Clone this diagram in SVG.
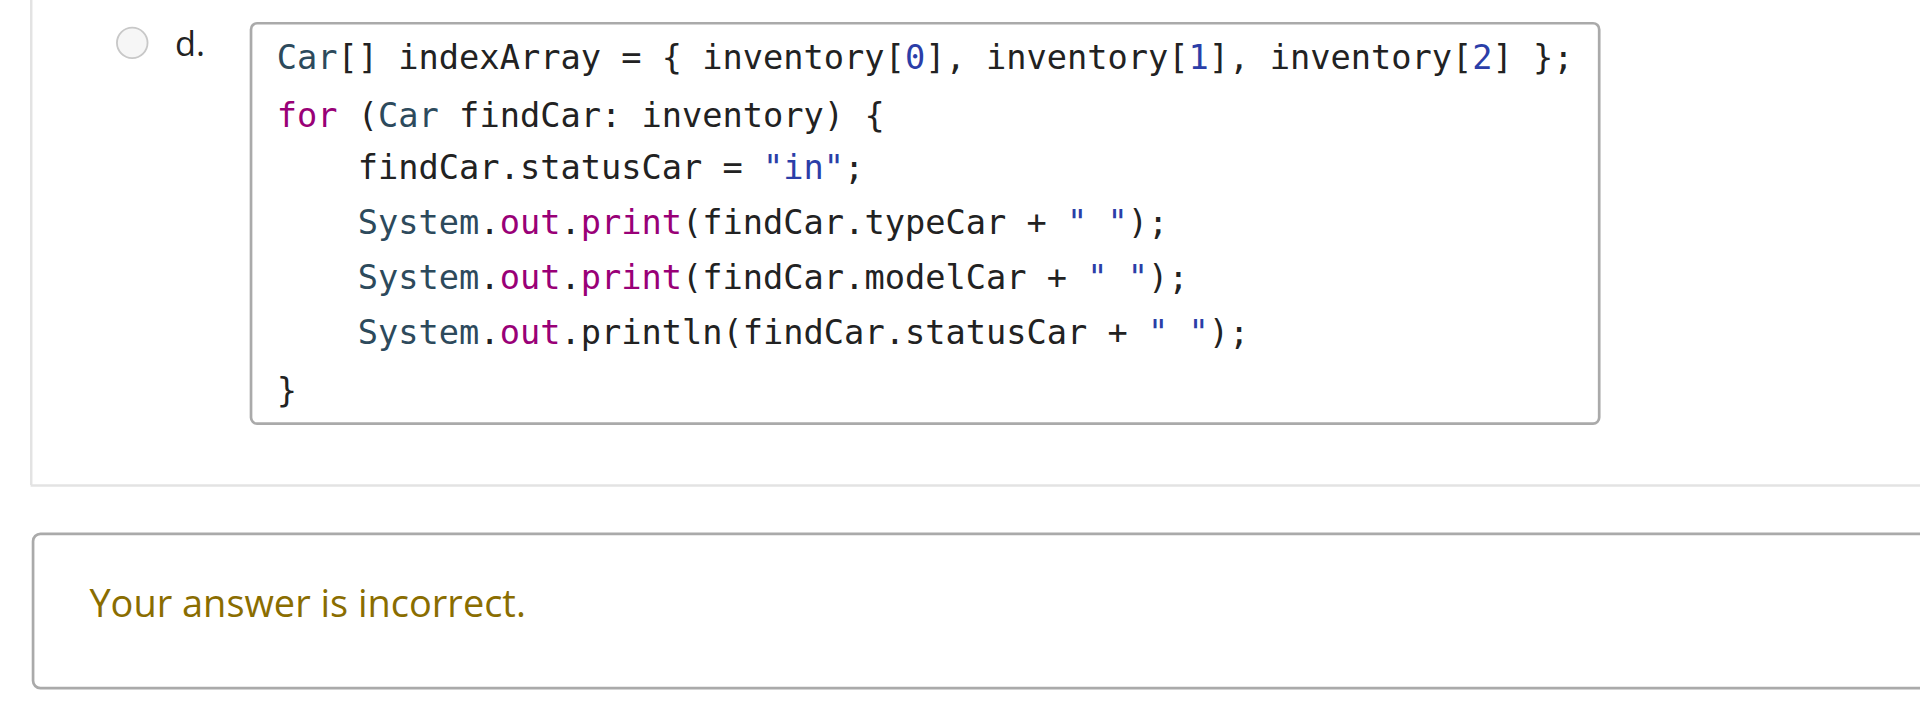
<svg xmlns="http://www.w3.org/2000/svg" width="1920" height="720" viewBox="0 0 1920 720">
<style>
.c{font-family:"DejaVu Sans Mono","Liberation Mono",monospace;font-size:27.5px;fill:#222;white-space:pre}
.t{fill:#2d4a5c}.k{fill:#990077}.n{fill:#2b3ea8}.s{fill:#2b3ea8}
</style>
<rect width="1920" height="720" fill="#fff"/>
<g transform="scale(1.2245)">
<g id="frame">
<line x1="25.5" y1="0" x2="25.5" y2="396" stroke="#e3e3e3" stroke-width="2"/>
<line x1="25" y1="396.5" x2="1568" y2="396.5" stroke="#e3e3e3" stroke-width="2"/>
</g>
<g id="option">
<circle cx="108" cy="35" r="12.5" fill="#f6f6f6" stroke="#c8c8c8" stroke-width="1.5"/>
<text x="143" y="46" font-family="Open Sans,Liberation Sans,sans-serif" font-size="28" fill="#222">d.</text>
</g>
<g id="code">
<rect x="205" y="19" width="1101" height="327" rx="5" fill="#fff" stroke="#aaa" stroke-width="2.2"/>
<text class="c" x="226" y="56"><tspan class="t">Car</tspan>[] indexArray = { inventory[<tspan class="n">0</tspan>], inventory[<tspan class="n">1</tspan>], inventory[<tspan class="n">2</tspan>] };</text>
<text class="c" x="226" y="104"><tspan class="k">for</tspan> (<tspan class="t">Car</tspan> findCar: inventory) {</text>
<text class="c" x="226" y="146">    findCar.statusCar = <tspan class="s">"in"</tspan>;</text>
<text class="c" x="226" y="191">    <tspan class="t">System</tspan>.<tspan class="k">out</tspan>.<tspan class="k">print</tspan>(findCar.typeCar + <tspan class="s">" "</tspan>);</text>
<text class="c" x="226" y="236">    <tspan class="t">System</tspan>.<tspan class="k">out</tspan>.<tspan class="k">print</tspan>(findCar.modelCar + <tspan class="s">" "</tspan>);</text>
<text class="c" x="226" y="281">    <tspan class="t">System</tspan>.<tspan class="k">out</tspan>.println(findCar.statusCar + <tspan class="s">" "</tspan>);</text>
<text class="c" x="226" y="328">}</text>
</g>
<g id="feedback">
<rect x="27" y="436" width="1560" height="126" rx="6" fill="#fff" stroke="#aaa" stroke-width="2.2"/>
<text x="73" y="504" font-family="Open Sans,Liberation Sans,sans-serif" font-size="31" fill="#8a6d00">Your answer is incorrect.</text>
</g>
</g>
</svg>
